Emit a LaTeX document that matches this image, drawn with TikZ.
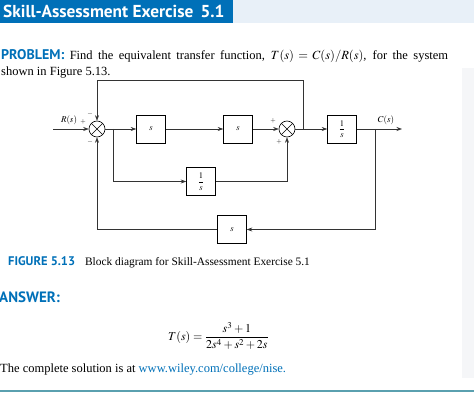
\documentclass[tikz,border=0pt]{standalone}
\usepackage{mathptmx}
\usepackage{fontspec}
\setmainfont{Liberation Serif}
\newfontfamily\headfont{PT Sans}
\usepackage{xcolor}
\usepackage{amsmath}
\usetikzlibrary{arrows.meta}
\tikzset{>={Stealth[length=5.5pt,width=4pt]}}
\definecolor{wileyblue}{RGB}{0,112,184}
\definecolor{bandblue}{RGB}{232,240,248}
\definecolor{rulecyan}{RGB}{90,160,175}
\definecolor{panelgray}{RGB}{245,246,248}
\tikzset{
  blk/.style={draw,line width=0.6pt,minimum width=29pt,minimum height=28pt,inner sep=0pt,font=\fontsize{8.5}{9}\selectfont},
  sumjn/.style={draw,circle,line width=0.6pt,minimum size=16pt,inner sep=0pt,
    path picture={\draw[line width=0.6pt] (path picture bounding box.north west)--(path picture bounding box.south east)
      (path picture bounding box.north east)--(path picture bounding box.south west);}},
  sgn/.style={inner sep=0pt,font=\fontsize{7}{7}\selectfont},
  lbl/.style={inner sep=0pt,font=\fontsize{9}{10}\selectfont},
  sig/.style={line width=0.6pt,draw=black!80},
}

\begin{document}
\begin{tikzpicture}[x=1pt,y=-1pt]
\useasboundingbox (0,0) rectangle (474,401);
\fill[wileyblue] (0,0) rectangle (233,23);
\fill[bandblue] (233,0) rectangle (474,23);
\fill[panelgray] (462,68) rectangle (474,378);
\node[anchor=base west,inner sep=0pt,text=white,font=\headfont\bfseries\fontsize{17.3}{18}\selectfont] (title) at (3,18) {Skill-Assessment Exercise\, 5.1};
\node[anchor=base west,inner sep=0pt] (prob) at (1,50) {\parbox[t]{447pt}{\fontsize{12.5}{16}\selectfont
  {\headfont\bfseries\fontsize{14}{16}\selectfont\color{wileyblue}PROBLEM:} Find the equivalent transfer function, $T(s)=C(s)/R(s)$, for the system\linebreak shown in Figure 5.13.}};

\node[sumjn] (sum1) at (97,129) {};
\node[blk] (gs1) at (151,129) {$s$};
\node[blk] (gs2) at (238,129) {$s$};
\node[sumjn] (sum2) at (287,129) {};
\node[blk] (gint) at (342,129) {$\dfrac{1}{s}$};
\node[blk] (gmid) at (201,181.5) {$\dfrac{1}{s}$};
\node[blk] (gfb) at (232,229.5) {$s$};
\coordinate (rin) at (53,129);
\coordinate (cout) at (402,129);
\coordinate (p1) at (113,129);
\coordinate (p2) at (303,129);
\coordinate (p3) at (375,129);
\coordinate (ptop) at (0,80);
\draw[sig,->] (rin) -- (sum1);
\draw[sig,->] (sum1) -- (gs1);
\draw[sig,->] (gs1) -- (gs2);
\draw[sig,->] (gs2) -- (sum2);
\draw[sig,->] (sum2) -- (gint);
\draw[sig,->] (gint) -- (cout);
\draw[sig,->] (p1) |- (gmid);
\draw[sig,->] (gmid) -| (sum2);
\draw[sig,->] (p2) -- (p2 |- ptop) -| (sum1);
\draw[sig,->] (p3) |- (gfb);
\draw[sig,->] (gfb) -| (sum1);
\node[lbl] (rlbl) at (69,120) {$R(s)$};
\node[lbl] (clbl) at (386,120) {$C(s)$};
\node[sgn] (s1a) at (83,122) {$+$};
\node[sgn] (s1b) at (90,114) {$-$};
\node[sgn] (s1c) at (90,142) {$-$};
\node[sgn] (s2a) at (273,121) {$+$};
\node[sgn] (s2b) at (279,142) {$+$};

\node[anchor=base west,inner sep=0pt] (cap) at (8,265) {{\headfont\bfseries\color{wileyblue}\fontsize{12.5}{13}\selectfont FIGURE 5.13}\hspace{10pt}\fontsize{11.4}{12}\selectfont Block diagram for Skill-Assessment Exercise 5.1};
\node[anchor=base west,inner sep=0pt,text=wileyblue,font=\headfont\bfseries\fontsize{15}{15}\selectfont] (ans) at (-1,302) {ANSWER:};
\node[anchor=west,inner sep=0pt] (eq) at (168,336) {\fontsize{12}{14}\selectfont$\displaystyle T(s)=\frac{s^3+1}{2s^4+s^2+2s}$};
\node[anchor=base west,inner sep=0pt] (sol) at (0,372) {\fontsize{12.5}{14}\selectfont The complete solution is at \textcolor{wileyblue}{www.wiley.com/college/nise.}};
\draw[rulecyan,line width=2pt] (0,391) -- (474,391);
\end{tikzpicture}
\end{document}
